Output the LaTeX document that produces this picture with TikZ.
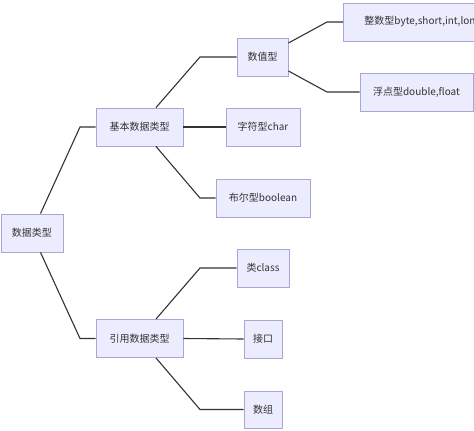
\documentclass[tikz,border=0pt]{standalone}
\usepackage{fontspec}
\setmainfont{Noto Sans CJK SC}
\definecolor{boxfill}{HTML}{ECECFF}
\definecolor{boxline}{HTML}{AAA5D6}
\definecolor{ink}{HTML}{333333}
\begin{document}
\begin{tikzpicture}[x=1pt,y=-1pt,
  box/.style={draw=boxline,fill=boxfill,line width=0.9pt,inner sep=0pt,
    minimum height=38pt,text=ink,font=\fontsize{10}{12}\selectfont},
  link/.style={draw=ink,line width=1.1pt}]
\useasboundingbox (0,0) rectangle (474,431);
\node[box,minimum width=62pt] (root) at (32,233) {数据类型};
\node[box,minimum width=87pt] (basic) at (139.5,127) {基本数据类型};
\node[box,minimum width=87pt] (ref) at (139.5,338.5) {引用数据类型};
\node[box,minimum width=51pt] (num) at (262.5,57) {数值型};
\node[box,anchor=west,inner xsep=21pt] (int) at (343,22) {整数型byte,short,int,long};
\node[box,minimum width=113pt] (float) at (416.5,92) {浮点型double,float};
\node[box,minimum width=74pt] (char) at (263,127) {字符型char};
\node[box,minimum width=94pt] (bool) at (263,198) {布尔型boolean};
\node[box,minimum width=52pt] (class) at (263,268) {类class};
\node[box,minimum width=38pt] (iface) at (263,339) {接口};
\node[box,minimum width=38pt,minimum height=37pt] (arr) at (263,409.5) {数组};
\draw[link] ([xshift=8.5pt]root.north) -- (80,127) -- (basic.west);
\draw[link] ([xshift=8.5pt]root.south) -- (80,338.5) -- (ref.west);
\draw[link] ([xshift=16.5pt]basic.north) -- (200,57) -- (num.west);
\draw[link] (basic.east) -- (char.west);
\draw[link] ([xshift=16.5pt]basic.south) -- (200,198) -- (bool.west);
\draw[link] ([yshift=14pt]num.east) -- (327,22) -- (int.west);
\draw[link] ([yshift=-14pt]num.east) -- (327,92) -- (float.west);
\draw[link] ([xshift=16.5pt]ref.north) -- (200,268) -- (class.west);
\draw[link] (ref.east) -- (iface.west);
\draw[link] ([xshift=16.5pt]ref.south) -- (200,409.5) -- (arr.west);
\end{tikzpicture}
\end{document}
